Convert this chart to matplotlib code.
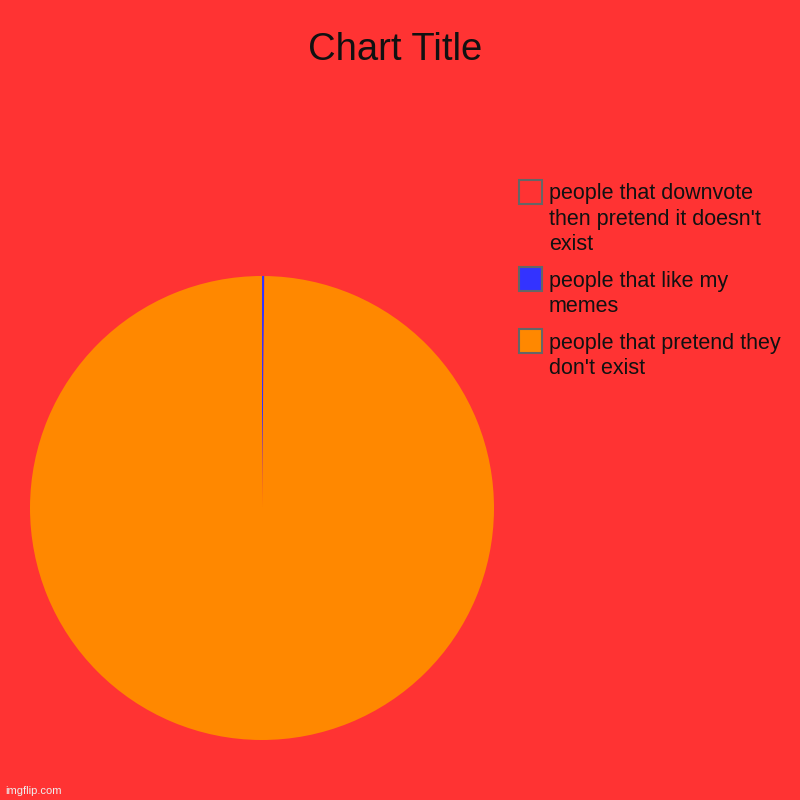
import matplotlib.pyplot as plt
from matplotlib.patches import Rectangle

# Data
labels = [
    "people that downvote then pretend it doesn't exist",
    "people that like my memes",
    "people that pretend they don't exist",
]
legend_lines = [
    ["people that downvote", "then pretend it doesn't", "exist"],
    ["people that like my", "memes"],
    ["people that pretend they", "don't exist"],
]
values = [0, 1, 620]
colors = ["#ff3333", "#3333ff", "#ff8800"]
bg = "#ff3333"

plt.rcParams['font.family'] = ['Liberation Sans', 'DejaVu Sans']

fig = plt.figure(figsize=(8, 8), dpi=100, facecolor=bg)

# pie axes: centre (262, 508) px, radius 232 px
W = H = 800
ax = fig.add_axes([30 / W, (H - 740) / H, 464 / W, 464 / H])
ax.set_facecolor(bg)
ax.pie(values, colors=colors, startangle=90, counterclock=False,
       radius=1, wedgeprops=dict(linewidth=0))
ax.set_xlim(-1, 1)
ax.set_ylim(-1, 1)
ax.set_aspect('equal')
ax.axis('off')

fig.text(395 / W, 1 - 50 / H, "Chart Title", ha='center', va='center',
         fontsize=27.5, color='#111111')

# legend drawn by hand
line_h = 25
gap = 12
y = 192
for lines, col in zip(legend_lines, colors):
    fig.patches.append(Rectangle(((519) / W, 1 - (y + 12) / H), 23 / W, 24 / H,
                                 transform=fig.transFigure, facecolor=col,
                                 edgecolor='#666666', linewidth=1.5))
    for k, ln in enumerate(lines):
        fig.text(549 / W, 1 - (y + 2 + k * line_h) / H, ln, ha='left', va='center',
                 fontsize=15.5, color='#111111')
    y += len(lines) * line_h + gap

fig.text(5 / W, 1 - 791 / H, "imgflip.com", ha='left', va='center',
         fontsize=8, color='#eeeeee')

fig.savefig("out.png", dpi=100, facecolor=bg)
